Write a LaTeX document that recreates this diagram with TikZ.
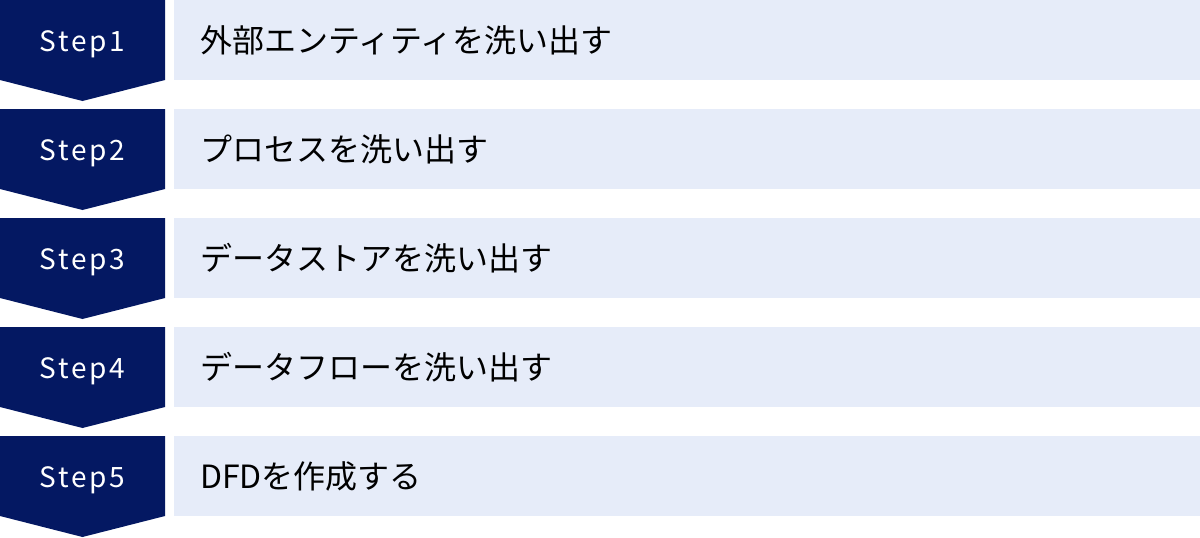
\documentclass[tikz,border=0pt]{standalone}
\usepackage{fontspec}
\setmainfont{Noto Sans CJK JP}
\newfontfamily\stepfont[LetterSpace=10]{Noto Sans CJK JP}
\usetikzlibrary{positioning}
\definecolor{stepnavy}{RGB}{4,24,98}
\definecolor{itemblue}{RGB}{230,236,249}

\begin{document}
\begin{tikzpicture}[x=1pt,y=-1pt,
  steplabel/.style={text=white,inner sep=0pt,font=\stepfont\fontsize{28}{28}\selectfont},
  stepitem/.style={anchor=west,inner sep=0pt,font=\fontsize{32}{32}\selectfont}]
  \useasboundingbox (0,0) rectangle (1200,538);
  \foreach \i/\txt in {1/外部エンティティを洗い出す,2/プロセスを洗い出す,3/データストアを洗い出す,4/データフローを洗い出す,5/DFDを作成する} {
    \pgfmathsetmacro\rowtop{(\i-1)*109}
    % chevron and bar
    \fill[stepnavy] (0,\rowtop) -- (165,\rowtop) -- (165,\rowtop+80) -- (82.5,\rowtop+101) -- (0,\rowtop+80) -- cycle;
    \fill[itemblue] (174,\rowtop) rectangle (1200,\rowtop+80);
    \node[steplabel] (step\i) at (82.5,\rowtop+44) {Step\i};
    \node[stepitem] (item\i) at (200,\rowtop+40) {\txt};
  }
\end{tikzpicture}
\end{document}
